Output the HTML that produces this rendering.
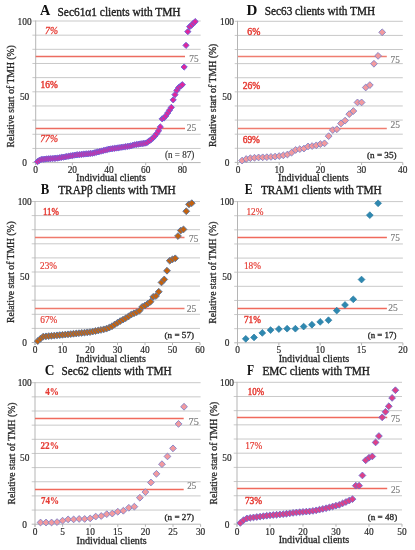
<!DOCTYPE html>
<html><head><meta charset="utf-8"><style>
html,body{margin:0;padding:0;background:#fff;}
svg{display:block;will-change:transform;}
.gl{stroke:#c9c9c9;stroke-width:1;}
.ax{stroke:#b5b5b5;stroke-width:1;}
text{font-family:"Liberation Serif",serif;}
.gr{fill:#7a7a7a;font-size:9.5px;stroke:#7a7a7a;stroke-width:0.15px;}
.tk{fill:#2a2a2a;font-size:9.4px;stroke:#2a2a2a;stroke-width:0.18px;}
.lb{fill:#2a2a2a;font-size:9.6px;stroke:#2a2a2a;stroke-width:0.3px;}
.nn{fill:#2a2a2a;font-size:8.9px;stroke:#2a2a2a;stroke-width:0.32px;}
.pc{fill:#e63c34;font-size:9.6px;stroke:#e63c34;stroke-width:0.2px;}
.let{fill:#111;font-size:14.4px;font-weight:bold;}
.tt{fill:#222;font-size:11.8px;stroke:#222;stroke-width:0.35px;}
</style></head><body>
<svg width="415" height="550" viewBox="0 0 415 550">
<rect width="415" height="550" fill="#fff"/>
<g id="pA"><line x1="32.4" y1="148.44" x2="200.67" y2="148.44" class="gl"/>
<line x1="32.4" y1="134.28" x2="200.67" y2="134.28" class="gl"/>
<line x1="32.4" y1="120.12" x2="200.67" y2="120.12" class="gl"/>
<line x1="32.4" y1="105.96" x2="200.67" y2="105.96" class="gl"/>
<line x1="32.4" y1="91.8" x2="200.67" y2="91.8" class="gl"/>
<line x1="32.4" y1="77.64" x2="200.67" y2="77.64" class="gl"/>
<line x1="32.4" y1="63.48" x2="200.67" y2="63.48" class="gl"/>
<line x1="32.4" y1="49.32" x2="200.67" y2="49.32" class="gl"/>
<line x1="32.4" y1="35.16" x2="200.67" y2="35.16" class="gl"/>
<line x1="32.4" y1="21" x2="200.67" y2="21" class="gl"/>
<line x1="35.7" y1="20.5" x2="35.7" y2="165.2" class="ax"/>
<line x1="32.4" y1="162.6" x2="200.67" y2="162.6" class="ax"/>
<line x1="35.7" y1="162.6" x2="35.7" y2="165.2" class="ax"/>
<line x1="72.36" y1="162.6" x2="72.36" y2="165.2" class="ax"/>
<line x1="109.02" y1="162.6" x2="109.02" y2="165.2" class="ax"/>
<line x1="145.68" y1="162.6" x2="145.68" y2="165.2" class="ax"/>
<line x1="182.34" y1="162.6" x2="182.34" y2="165.2" class="ax"/>
<line x1="35.7" y1="128.5" x2="185" y2="128.5" stroke="#ec6c60" stroke-width="1.35"/>
<line x1="35.7" y1="56.5" x2="185" y2="56.5" stroke="#ec6c60" stroke-width="1.35"/>
<text x="189.3" y="61.5" textLength="9.3" lengthAdjust="spacingAndGlyphs" class="gr" >75</text>
<text x="186.7" y="131" textLength="9.6" lengthAdjust="spacingAndGlyphs" class="gr" >25</text>
<text x="45.1" y="34" textLength="12.9" lengthAdjust="spacingAndGlyphs" class="pc" font-family='"Liberation Serif", serif' font-style="italic" style="stroke-width:0.3px">7%</text>
<text x="40.5" y="88" textLength="17.3" lengthAdjust="spacingAndGlyphs" class="pc" font-family='"Liberation Serif", serif' font-weight="normal" style="stroke-width:0.45px">16%</text>
<text x="40.2" y="142.2" textLength="17.8" lengthAdjust="spacingAndGlyphs" class="pc" font-family='"Liberation Serif", serif' font-style="italic" style="stroke-width:0.3px">77%</text>
<text x="165" y="158.1" textLength="29.2" lengthAdjust="spacingAndGlyphs" class="nn" font-family='"Liberation Serif", serif' style="font-size:9.8px;stroke-width:0.15px">(n = 87)</text>
<text x="24.6" y="24.6" text-anchor="middle" class="tk">100</text>
<text x="24.6" y="99.8" text-anchor="middle" class="tk">50</text>
<text x="24.6" y="166" text-anchor="middle" class="tk">0</text>
<text x="35.7" y="173" text-anchor="middle" class="tk">0</text>
<text x="72.36" y="173" text-anchor="middle" class="tk">20</text>
<text x="109.02" y="173" text-anchor="middle" class="tk">40</text>
<text x="145.68" y="173" text-anchor="middle" class="tk">60</text>
<text x="182.34" y="173" text-anchor="middle" class="tk">80</text>
<text x="76.1" y="181.2" textLength="69.7" lengthAdjust="spacingAndGlyphs" class="lb" >Individual clients</text>
<text transform="translate(13.7,147.4) rotate(-90)" textLength="102.2" lengthAdjust="spacingAndGlyphs" class="lb">Relative start of TMH (%)</text>
<text x="40.1" y="15.3" textLength="10.3" lengthAdjust="spacingAndGlyphs" class="let" >A</text>
<text x="57.5" y="15.6" textLength="123.1" lengthAdjust="spacingAndGlyphs" class="tt" >Sec61α1 clients with TMH</text>
<g fill="#e0259c" stroke="#6a62d8" stroke-width="0.95"><path d="M37.53 158.51L40.63 161.61L37.53 164.71L34.43 161.61Z"/><path d="M39.37 157.23L42.47 160.33L39.37 163.43L36.27 160.33Z"/><path d="M41.2 156.38L44.3 159.48L41.2 162.58L38.1 159.48Z"/><path d="M43.03 156.2L46.13 159.3L43.03 162.4L39.93 159.3Z"/><path d="M44.87 156.01L47.97 159.11L44.87 162.21L41.77 159.11Z"/><path d="M46.7 155.82L49.8 158.92L46.7 162.02L43.6 158.92Z"/><path d="M48.53 155.68L51.63 158.78L48.53 161.88L45.43 158.78Z"/><path d="M50.36 155.54L53.46 158.64L50.36 161.74L47.26 158.64Z"/><path d="M52.2 155.39L55.3 158.49L52.2 161.59L49.1 158.49Z"/><path d="M54.03 155.25L57.13 158.35L54.03 161.45L50.93 158.35Z"/><path d="M55.86 155.11L58.96 158.21L55.86 161.31L52.76 158.21Z"/><path d="M57.7 154.97L60.8 158.07L57.7 161.17L54.6 158.07Z"/><path d="M59.53 154.66L62.63 157.76L59.53 160.86L56.43 157.76Z"/><path d="M61.36 154.35L64.46 157.45L61.36 160.55L58.26 157.45Z"/><path d="M63.2 154.03L66.3 157.13L63.2 160.23L60.1 157.13Z"/><path d="M65.03 153.72L68.13 156.82L65.03 159.92L61.93 156.82Z"/><path d="M66.86 153.41L69.96 156.51L66.86 159.61L63.76 156.51Z"/><path d="M68.69 153.1L71.79 156.2L68.69 159.3L65.59 156.2Z"/><path d="M70.53 152.79L73.63 155.89L70.53 158.99L67.43 155.89Z"/><path d="M72.36 152.48L75.46 155.58L72.36 158.68L69.26 155.58Z"/><path d="M74.19 152.17L77.29 155.27L74.19 158.37L71.09 155.27Z"/><path d="M76.03 151.85L79.13 154.95L76.03 158.05L72.93 154.95Z"/><path d="M77.86 151.66L80.96 154.76L77.86 157.86L74.76 154.76Z"/><path d="M79.69 151.48L82.79 154.58L79.69 157.68L76.59 154.58Z"/><path d="M81.53 151.29L84.62 154.39L81.53 157.49L78.43 154.39Z"/><path d="M83.36 151.1L86.46 154.2L83.36 157.3L80.26 154.2Z"/><path d="M85.19 150.91L88.29 154.01L85.19 157.11L82.09 154.01Z"/><path d="M87.02 150.72L90.12 153.82L87.02 156.92L83.92 153.82Z"/><path d="M88.86 150.53L91.96 153.63L88.86 156.73L85.76 153.63Z"/><path d="M90.69 150.34L93.79 153.44L90.69 156.54L87.59 153.44Z"/><path d="M92.52 150.15L95.62 153.25L92.52 156.35L89.42 153.25Z"/><path d="M94.36 149.7L97.46 152.8L94.36 155.9L91.26 152.8Z"/><path d="M96.19 149.24L99.29 152.34L96.19 155.44L93.09 152.34Z"/><path d="M98.02 148.79L101.12 151.89L98.02 154.99L94.92 151.89Z"/><path d="M99.86 148.33L102.95 151.43L99.86 154.53L96.76 151.43Z"/><path d="M101.69 147.87L104.79 150.97L101.69 154.07L98.59 150.97Z"/><path d="M103.52 147.42L106.62 150.52L103.52 153.62L100.42 150.52Z"/><path d="M105.35 146.96L108.45 150.06L105.35 153.16L102.25 150.06Z"/><path d="M107.19 146.5L110.29 149.6L107.19 152.7L104.09 149.6Z"/><path d="M109.02 146.05L112.12 149.15L109.02 152.25L105.92 149.15Z"/><path d="M110.85 145.78L113.95 148.88L110.85 151.98L107.75 148.88Z"/><path d="M112.69 145.51L115.79 148.61L112.69 151.71L109.59 148.61Z"/><path d="M114.52 145.24L117.62 148.34L114.52 151.44L111.42 148.34Z"/><path d="M116.35 144.96L119.45 148.06L116.35 151.16L113.25 148.06Z"/><path d="M118.19 144.69L121.28 147.79L118.19 150.89L115.09 147.79Z"/><path d="M120.02 144.42L123.12 147.52L120.02 150.62L116.92 147.52Z"/><path d="M121.85 144.15L124.95 147.25L121.85 150.35L118.75 147.25Z"/><path d="M123.68 143.88L126.78 146.98L123.68 150.08L120.58 146.98Z"/><path d="M125.52 143.61L128.62 146.71L125.52 149.81L122.42 146.71Z"/><path d="M127.35 143.34L130.45 146.44L127.35 149.54L124.25 146.44Z"/><path d="M129.18 143.07L132.28 146.17L129.18 149.27L126.08 146.17Z"/><path d="M131.02 142.68L134.12 145.78L131.02 148.88L127.92 145.78Z"/><path d="M132.85 142.17L135.95 145.27L132.85 148.37L129.75 145.27Z"/><path d="M134.68 141.66L137.78 144.76L134.68 147.86L131.58 144.76Z"/><path d="M136.51 141.38L139.61 144.48L136.51 147.58L133.41 144.48Z"/><path d="M138.35 141.09L141.45 144.19L138.35 147.29L135.25 144.19Z"/><path d="M140.18 140.81L143.28 143.91L140.18 147.01L137.08 143.91Z"/><path d="M142.01 140.53L145.11 143.63L142.01 146.73L138.91 143.63Z"/><path d="M143.85 140.24L146.95 143.34L143.85 146.44L140.75 143.34Z"/><path d="M145.68 139.96L148.78 143.06L145.68 146.16L142.58 143.06Z"/><path d="M147.51 139.11L150.61 142.21L147.51 145.31L144.41 142.21Z"/><path d="M149.35 137.84L152.45 140.94L149.35 144.04L146.25 140.94Z"/><path d="M151.18 136.42L154.28 139.52L151.18 142.62L148.08 139.52Z"/><path d="M153.01 134.86L156.11 137.96L153.01 141.06L149.91 137.96Z"/><path d="M154.84 132.88L157.94 135.98L154.84 139.08L151.75 135.98Z"/><path d="M156.68 130.61L159.78 133.71L156.68 136.81L153.58 133.71Z"/><path d="M158.51 127.78L161.61 130.88L158.51 133.98L155.41 130.88Z"/><path d="M160.34 123.82L163.44 126.92L160.34 130.02L157.24 126.92Z"/><path d="M162.18 115.75L165.28 118.85L162.18 121.95L159.08 118.85Z"/><path d="M164.01 114.9L167.11 118L164.01 121.1L160.91 118Z"/><path d="M165.84 112.77L168.94 115.87L165.84 118.97L162.74 115.87Z"/><path d="M167.68 109.94L170.78 113.04L167.68 116.14L164.58 113.04Z"/><path d="M169.51 107.11L172.61 110.21L169.51 113.31L166.41 110.21Z"/><path d="M171.34 104.28L174.44 107.38L171.34 110.48L168.24 107.38Z"/><path d="M173.18 96.77L176.28 99.87L173.18 102.97L170.08 99.87Z"/><path d="M175.01 91.53L178.11 94.63L175.01 97.73L171.91 94.63Z"/><path d="M176.84 87.28L179.94 90.38L176.84 93.48L173.74 90.38Z"/><path d="M178.67 84.45L181.77 87.55L178.67 90.65L175.57 87.55Z"/><path d="M180.51 83.04L183.61 86.14L180.51 89.24L177.41 86.14Z"/><path d="M182.34 81.62L185.44 84.72L182.34 87.82L179.24 84.72Z"/><path d="M184.17 63.92L187.27 67.02L184.17 70.12L181.07 67.02Z"/><path d="M186.01 42.26L189.11 45.36L186.01 48.46L182.91 45.36Z"/><path d="M187.84 28.52L190.94 31.62L187.84 34.72L184.74 31.62Z"/><path d="M189.67 23.56L192.77 26.66L189.67 29.76L186.57 26.66Z"/><path d="M191.5 22.15L194.6 25.25L191.5 28.35L188.41 25.25Z"/><path d="M193.34 20.17L196.44 23.27L193.34 26.37L190.24 23.27Z"/><path d="M195.17 18.47L198.27 21.57L195.17 24.67L192.07 21.57Z"/></g></g>
<g id="pB"><line x1="31.7" y1="328.4" x2="200" y2="328.4" class="gl"/>
<line x1="31.7" y1="314.3" x2="200" y2="314.3" class="gl"/>
<line x1="31.7" y1="300.2" x2="200" y2="300.2" class="gl"/>
<line x1="31.7" y1="286.1" x2="200" y2="286.1" class="gl"/>
<line x1="31.7" y1="272" x2="200" y2="272" class="gl"/>
<line x1="31.7" y1="257.9" x2="200" y2="257.9" class="gl"/>
<line x1="31.7" y1="243.8" x2="200" y2="243.8" class="gl"/>
<line x1="31.7" y1="229.7" x2="200" y2="229.7" class="gl"/>
<line x1="31.7" y1="215.6" x2="200" y2="215.6" class="gl"/>
<line x1="31.7" y1="201.5" x2="200" y2="201.5" class="gl"/>
<line x1="35" y1="201" x2="35" y2="345.1" class="ax"/>
<line x1="31.7" y1="342.5" x2="200" y2="342.5" class="ax"/>
<line x1="35" y1="342.5" x2="35" y2="345.1" class="ax"/>
<line x1="62.5" y1="342.5" x2="62.5" y2="345.1" class="ax"/>
<line x1="90" y1="342.5" x2="90" y2="345.1" class="ax"/>
<line x1="117.5" y1="342.5" x2="117.5" y2="345.1" class="ax"/>
<line x1="145" y1="342.5" x2="145" y2="345.1" class="ax"/>
<line x1="172.5" y1="342.5" x2="172.5" y2="345.1" class="ax"/>
<line x1="200" y1="342.5" x2="200" y2="345.1" class="ax"/>
<line x1="35" y1="308.5" x2="184.5" y2="308.5" stroke="#ef7a6c" stroke-width="1.35"/>
<line x1="35" y1="237.5" x2="184.5" y2="237.5" stroke="#ef7a6c" stroke-width="1.35"/>
<text x="189" y="241.6" textLength="9.3" lengthAdjust="spacingAndGlyphs" class="gr" >75</text>
<text x="186.8" y="311.6" textLength="9.6" lengthAdjust="spacingAndGlyphs" class="gr" >25</text>
<text x="42.9" y="214.9" textLength="16" lengthAdjust="spacingAndGlyphs" class="pc" font-family='"Liberation Serif", serif' font-weight="normal" style="stroke-width:0.45px">11%</text>
<text x="40" y="269.3" textLength="17" lengthAdjust="spacingAndGlyphs" class="pc" font-family='"Liberation Sans", sans-serif' font-weight="normal">23%</text>
<text x="40.3" y="323.3" textLength="17" lengthAdjust="spacingAndGlyphs" class="pc" font-family='"Liberation Serif", serif' font-weight="normal">67%</text>
<text x="164.5" y="338.1" textLength="29.5" lengthAdjust="spacingAndGlyphs" class="nn" font-family='"Liberation Sans", sans-serif'>(n = 57)</text>
<text x="24.7" y="205.1" text-anchor="middle" class="tk">100</text>
<text x="24.7" y="280" text-anchor="middle" class="tk">50</text>
<text x="24.7" y="345.9" text-anchor="middle" class="tk">0</text>
<text x="35" y="352.9" text-anchor="middle" class="tk">0</text>
<text x="62.5" y="352.9" text-anchor="middle" class="tk">10</text>
<text x="90" y="352.9" text-anchor="middle" class="tk">20</text>
<text x="117.5" y="352.9" text-anchor="middle" class="tk">30</text>
<text x="145" y="352.9" text-anchor="middle" class="tk">40</text>
<text x="172.5" y="352.9" text-anchor="middle" class="tk">50</text>
<text x="200" y="352.9" text-anchor="middle" class="tk">60</text>
<text x="76.1" y="362.2" textLength="69.7" lengthAdjust="spacingAndGlyphs" class="lb" >Individual clients</text>
<text transform="translate(13.7,323) rotate(-90)" textLength="101.7" lengthAdjust="spacingAndGlyphs" class="lb">Relative start of TMH (%)</text>
<text x="40.7" y="193.6" textLength="8.5" lengthAdjust="spacingAndGlyphs" class="let" >B</text>
<text x="58.2" y="193.9" textLength="117.6" lengthAdjust="spacingAndGlyphs" class="tt" >TRAPβ clients with TMH</text>
<g fill="#c4620e" stroke="#5a76a0" stroke-width="0.95"><path d="M37.75 337.69L41.15 341.09L37.75 344.49L34.35 341.09Z"/><path d="M40.5 335.29L43.9 338.69L40.5 342.09L37.1 338.69Z"/><path d="M43.25 333.18L46.65 336.58L43.25 339.98L39.85 336.58Z"/><path d="M46 332.93L49.4 336.33L46 339.73L42.6 336.33Z"/><path d="M48.75 332.68L52.15 336.08L48.75 339.48L45.35 336.08Z"/><path d="M51.5 332.43L54.9 335.83L51.5 339.23L48.1 335.83Z"/><path d="M54.25 332.18L57.65 335.58L54.25 338.98L50.85 335.58Z"/><path d="M57 331.92L60.4 335.32L57 338.72L53.6 335.32Z"/><path d="M59.75 331.67L63.15 335.07L59.75 338.47L56.35 335.07Z"/><path d="M62.5 331.42L65.9 334.82L62.5 338.22L59.1 334.82Z"/><path d="M65.25 331.17L68.65 334.57L65.25 337.97L61.85 334.57Z"/><path d="M68 330.92L71.4 334.32L68 337.72L64.6 334.32Z"/><path d="M70.75 330.64L74.15 334.04L70.75 337.44L67.35 334.04Z"/><path d="M73.5 330.36L76.9 333.76L73.5 337.16L70.1 333.76Z"/><path d="M76.25 330.08L79.65 333.48L76.25 336.88L72.85 333.48Z"/><path d="M79 329.79L82.4 333.19L79 336.59L75.6 333.19Z"/><path d="M81.75 329.51L85.15 332.91L81.75 336.31L78.35 332.91Z"/><path d="M84.5 329.23L87.9 332.63L84.5 336.03L81.1 332.63Z"/><path d="M87.25 328.95L90.65 332.35L87.25 335.75L83.85 332.35Z"/><path d="M90 328.67L93.4 332.07L90 335.47L86.6 332.07Z"/><path d="M92.75 328.14L96.15 331.54L92.75 334.94L89.35 331.54Z"/><path d="M95.5 327.61L98.9 331.01L95.5 334.41L92.1 331.01Z"/><path d="M98.25 327.08L101.65 330.48L98.25 333.88L94.85 330.48Z"/><path d="M101 326.55L104.4 329.95L101 333.35L97.6 329.95Z"/><path d="M103.75 325.92L107.15 329.32L103.75 332.72L100.35 329.32Z"/><path d="M106.5 325.28L109.9 328.68L106.5 332.08L103.1 328.68Z"/><path d="M109.25 324.22L112.65 327.62L109.25 331.02L105.85 327.62Z"/><path d="M112 322.86L115.4 326.26L112 329.66L108.6 326.26Z"/><path d="M114.75 321.04L118.15 324.44L114.75 327.84L111.35 324.44Z"/><path d="M117.5 319.34L120.9 322.74L117.5 326.14L114.1 322.74Z"/><path d="M120.25 317.69L123.65 321.09L120.25 324.49L116.85 321.09Z"/><path d="M123 316.26L126.4 319.66L123 323.06L119.6 319.66Z"/><path d="M125.75 314.79L129.15 318.19L125.75 321.59L122.35 318.19Z"/><path d="M128.5 313.08L131.9 316.48L128.5 319.88L125.1 316.48Z"/><path d="M131.25 311.19L134.65 314.59L131.25 317.99L127.85 314.59Z"/><path d="M134 309.91L137.4 313.31L134 316.71L130.6 313.31Z"/><path d="M136.75 308.79L140.15 312.19L136.75 315.58L133.35 312.19Z"/><path d="M139.5 307.23L142.9 310.63L139.5 314.03L136.1 310.63Z"/><path d="M142.25 303.43L145.65 306.83L142.25 310.23L138.85 306.83Z"/><path d="M145 302.16L148.4 305.56L145 308.96L141.6 305.56Z"/><path d="M147.75 300.33L151.15 303.73L147.75 307.12L144.35 303.73Z"/><path d="M150.5 298.35L153.9 301.75L150.5 305.15L147.1 301.75Z"/><path d="M153.25 293.42L156.65 296.82L153.25 300.22L149.85 296.82Z"/><path d="M156 292.57L159.4 295.97L156 299.37L152.6 295.97Z"/><path d="M158.75 288.34L162.15 291.74L158.75 295.14L155.35 291.74Z"/><path d="M161.5 279.03L164.9 282.43L161.5 285.83L158.1 282.43Z"/><path d="M164.25 276.07L167.65 279.47L164.25 282.87L160.85 279.47Z"/><path d="M167 267.33L170.4 270.73L167 274.13L163.6 270.73Z"/><path d="M169.75 257.32L173.15 260.72L169.75 264.12L166.35 260.72Z"/><path d="M172.5 255.91L175.9 259.31L172.5 262.71L169.1 259.31Z"/><path d="M175.25 254.92L178.65 258.32L175.25 261.72L171.85 258.32Z"/><path d="M178 232.65L181.4 236.05L178 239.45L174.6 236.05Z"/><path d="M180.75 227.15L184.15 230.55L180.75 233.95L177.35 230.55Z"/><path d="M183.5 226.02L186.9 229.42L183.5 232.82L180.1 229.42Z"/><path d="M186.25 207.83L189.65 211.23L186.25 214.63L182.85 211.23Z"/><path d="M189 200.92L192.4 204.32L189 207.72L185.6 204.32Z"/><path d="M191.75 199.79L195.15 203.19L191.75 206.59L188.35 203.19Z"/></g></g>
<g id="pC"><line x1="31.7" y1="510.05" x2="200.6" y2="510.05" class="gl"/>
<line x1="31.7" y1="495.9" x2="200.6" y2="495.9" class="gl"/>
<line x1="31.7" y1="481.75" x2="200.6" y2="481.75" class="gl"/>
<line x1="31.7" y1="467.6" x2="200.6" y2="467.6" class="gl"/>
<line x1="31.7" y1="453.45" x2="200.6" y2="453.45" class="gl"/>
<line x1="31.7" y1="439.3" x2="200.6" y2="439.3" class="gl"/>
<line x1="31.7" y1="425.15" x2="200.6" y2="425.15" class="gl"/>
<line x1="31.7" y1="411" x2="200.6" y2="411" class="gl"/>
<line x1="31.7" y1="396.85" x2="200.6" y2="396.85" class="gl"/>
<line x1="31.7" y1="382.7" x2="200.6" y2="382.7" class="gl"/>
<line x1="35" y1="382.2" x2="35" y2="526.8" class="ax"/>
<line x1="31.7" y1="524.2" x2="200.6" y2="524.2" class="ax"/>
<line x1="35" y1="524.2" x2="35" y2="526.8" class="ax"/>
<line x1="62.6" y1="524.2" x2="62.6" y2="526.8" class="ax"/>
<line x1="90.2" y1="524.2" x2="90.2" y2="526.8" class="ax"/>
<line x1="117.8" y1="524.2" x2="117.8" y2="526.8" class="ax"/>
<line x1="145.4" y1="524.2" x2="145.4" y2="526.8" class="ax"/>
<line x1="173" y1="524.2" x2="173" y2="526.8" class="ax"/>
<line x1="200.6" y1="524.2" x2="200.6" y2="526.8" class="ax"/>
<line x1="35" y1="489.5" x2="183.7" y2="489.5" stroke="#f06a5c" stroke-width="1.35"/>
<line x1="35" y1="418.5" x2="183.7" y2="418.5" stroke="#f06a5c" stroke-width="1.35"/>
<text x="188.5" y="424.6" textLength="10.3" lengthAdjust="spacingAndGlyphs" class="gr" >75</text>
<text x="187.2" y="489.4" textLength="9" lengthAdjust="spacingAndGlyphs" class="gr" >25</text>
<text x="45.3" y="394.9" textLength="13.6" lengthAdjust="spacingAndGlyphs" class="pc" font-family='"Liberation Sans", sans-serif' font-weight="bold">4%</text>
<text x="40.5" y="449.3" textLength="18.4" lengthAdjust="spacingAndGlyphs" class="pc" font-family='"Liberation Sans", sans-serif' font-weight="bold">22%</text>
<text x="41" y="503.5" textLength="17.9" lengthAdjust="spacingAndGlyphs" class="pc" font-family='"Liberation Sans", sans-serif' font-weight="bold">74%</text>
<text x="164.5" y="520.1" textLength="29.5" lengthAdjust="spacingAndGlyphs" class="nn" font-family='"Liberation Sans", sans-serif'>(n = 27)</text>
<text x="24.7" y="386.3" text-anchor="middle" class="tk">100</text>
<text x="24.7" y="461.45" text-anchor="middle" class="tk">50</text>
<text x="24.7" y="527.6" text-anchor="middle" class="tk">0</text>
<text x="35" y="534.6" text-anchor="middle" class="tk">0</text>
<text x="62.6" y="534.6" text-anchor="middle" class="tk">5</text>
<text x="90.2" y="534.6" text-anchor="middle" class="tk">10</text>
<text x="117.8" y="534.6" text-anchor="middle" class="tk">15</text>
<text x="145.4" y="534.6" text-anchor="middle" class="tk">20</text>
<text x="173" y="534.6" text-anchor="middle" class="tk">25</text>
<text x="200.6" y="534.6" text-anchor="middle" class="tk">30</text>
<text x="76.6" y="544.3" textLength="70" lengthAdjust="spacingAndGlyphs" class="lb" >Individual clients</text>
<text transform="translate(14.8,504.5) rotate(-90)" textLength="101.9" lengthAdjust="spacingAndGlyphs" class="lb">Relative start of TMH (%)</text>
<text x="44.7" y="375" textLength="9.7" lengthAdjust="spacingAndGlyphs" class="let" >C</text>
<text x="61.5" y="375" textLength="110.1" lengthAdjust="spacingAndGlyphs" class="tt" >Sec62 clients with TMH</text>
<g fill="#f39a9e" stroke="#8083c8" stroke-width="0.9"><path d="M40.52 519.1L43.92 522.5L40.52 525.9L37.12 522.5Z"/><path d="M46.04 519.1L49.44 522.5L46.04 525.9L42.64 522.5Z"/><path d="M51.56 519.1L54.96 522.5L51.56 525.9L48.16 522.5Z"/><path d="M57.08 518.68L60.48 522.08L57.08 525.48L53.68 522.08Z"/><path d="M62.6 517.26L66 520.66L62.6 524.06L59.2 520.66Z"/><path d="M68.12 515.99L71.52 519.39L68.12 522.79L64.72 519.39Z"/><path d="M73.64 515.99L77.04 519.39L73.64 522.79L70.24 519.39Z"/><path d="M79.16 515.56L82.56 518.96L79.16 522.36L75.76 518.96Z"/><path d="M84.68 515.56L88.08 518.96L84.68 522.36L81.28 518.96Z"/><path d="M90.2 515L93.6 518.4L90.2 521.8L86.8 518.4Z"/><path d="M95.72 513.16L99.12 516.56L95.72 519.96L92.32 516.56Z"/><path d="M101.24 512.59L104.64 515.99L101.24 519.39L97.84 515.99Z"/><path d="M106.76 510.75L110.16 514.15L106.76 517.55L103.36 514.15Z"/><path d="M112.28 510.19L115.68 513.59L112.28 516.99L108.88 513.59Z"/><path d="M117.8 508.35L121.2 511.75L117.8 515.15L114.4 511.75Z"/><path d="M123.32 507.36L126.72 510.76L123.32 514.16L119.92 510.76Z"/><path d="M128.84 504.39L132.24 507.79L128.84 511.19L125.44 507.79Z"/><path d="M134.36 503.25L137.76 506.65L134.36 510.05L130.96 506.65Z"/><path d="M139.88 494.34L143.28 497.74L139.88 501.14L136.48 497.74Z"/><path d="M145.4 488.68L148.8 492.08L145.4 495.48L142 492.08Z"/><path d="M150.92 479.06L154.32 482.46L150.92 485.86L147.52 482.46Z"/><path d="M156.44 470.43L159.84 473.83L156.44 477.23L153.04 473.83Z"/><path d="M161.96 460.8L165.36 464.2L161.96 467.6L158.56 464.2Z"/><path d="M167.48 453.02L170.88 456.42L167.48 459.82L164.08 456.42Z"/><path d="M173 444.96L176.4 448.36L173 451.76L169.6 448.36Z"/><path d="M178.52 420.48L181.92 423.88L178.52 427.28L175.12 423.88Z"/><path d="M184.04 403.36L187.44 406.75L184.04 410.15L180.64 406.75Z"/></g></g>
<g id="pD"><line x1="234.7" y1="148.29" x2="402.8" y2="148.29" class="gl"/>
<line x1="234.7" y1="134.18" x2="402.8" y2="134.18" class="gl"/>
<line x1="234.7" y1="120.07" x2="402.8" y2="120.07" class="gl"/>
<line x1="234.7" y1="105.96" x2="402.8" y2="105.96" class="gl"/>
<line x1="234.7" y1="91.85" x2="402.8" y2="91.85" class="gl"/>
<line x1="234.7" y1="77.74" x2="402.8" y2="77.74" class="gl"/>
<line x1="234.7" y1="63.63" x2="402.8" y2="63.63" class="gl"/>
<line x1="234.7" y1="49.52" x2="402.8" y2="49.52" class="gl"/>
<line x1="234.7" y1="35.41" x2="402.8" y2="35.41" class="gl"/>
<line x1="234.7" y1="21.3" x2="402.8" y2="21.3" class="gl"/>
<line x1="237.5" y1="20.8" x2="237.5" y2="165" class="ax"/>
<line x1="234.7" y1="162.4" x2="402.8" y2="162.4" class="ax"/>
<line x1="238" y1="162.4" x2="238" y2="165" class="ax"/>
<line x1="279.2" y1="162.4" x2="279.2" y2="165" class="ax"/>
<line x1="320.4" y1="162.4" x2="320.4" y2="165" class="ax"/>
<line x1="361.6" y1="162.4" x2="361.6" y2="165" class="ax"/>
<line x1="402.8" y1="162.4" x2="402.8" y2="165" class="ax"/>
<line x1="238" y1="128.5" x2="386.8" y2="128.5" stroke="#ef7d70" stroke-width="1.35"/>
<line x1="238" y1="56.5" x2="386.8" y2="56.5" stroke="#ef7d70" stroke-width="1.35"/>
<text x="390.5" y="62.9" textLength="9.3" lengthAdjust="spacingAndGlyphs" class="gr" >75</text>
<text x="390.5" y="127.5" textLength="9.5" lengthAdjust="spacingAndGlyphs" class="gr" >25</text>
<text x="247.3" y="34.7" textLength="13.1" lengthAdjust="spacingAndGlyphs" class="pc" font-family='"Liberation Serif", serif' font-weight="normal" style="stroke-width:0.45px">6%</text>
<text x="242.7" y="88.8" textLength="17.5" lengthAdjust="spacingAndGlyphs" class="pc" font-family='"Liberation Serif", serif' font-weight="normal" style="stroke-width:0.45px">26%</text>
<text x="242.7" y="142.8" textLength="17.3" lengthAdjust="spacingAndGlyphs" class="pc" font-family='"Liberation Serif", serif' font-weight="normal" style="stroke-width:0.45px">69%</text>
<text x="367" y="158.1" textLength="29.5" lengthAdjust="spacingAndGlyphs" class="nn" font-family='"Liberation Sans", sans-serif'>(n = 35)</text>
<text x="227" y="24.9" text-anchor="middle" class="tk">100</text>
<text x="227" y="99.85" text-anchor="middle" class="tk">50</text>
<text x="227" y="165.8" text-anchor="middle" class="tk">0</text>
<text x="238" y="172.8" text-anchor="middle" class="tk">0</text>
<text x="279.2" y="172.8" text-anchor="middle" class="tk">10</text>
<text x="320.4" y="172.8" text-anchor="middle" class="tk">20</text>
<text x="361.6" y="172.8" text-anchor="middle" class="tk">30</text>
<text x="402.8" y="172.8" text-anchor="middle" class="tk">40</text>
<text x="278.1" y="181.2" textLength="70.6" lengthAdjust="spacingAndGlyphs" class="lb" >Individual clients</text>
<text transform="translate(216,147.1) rotate(-90)" textLength="103.4" lengthAdjust="spacingAndGlyphs" class="lb">Relative start of TMH (%)</text>
<text x="246.4" y="15" textLength="10.9" lengthAdjust="spacingAndGlyphs" class="let" >D</text>
<text x="264.7" y="15.4" textLength="110.5" lengthAdjust="spacingAndGlyphs" class="tt" >Sec63 clients with TMH</text>
<g fill="#f39a9e" stroke="#8083c8" stroke-width="0.9"><path d="M242.12 157.17L245.52 160.57L242.12 163.97L238.72 160.57Z"/><path d="M246.24 155.61L249.64 159.01L246.24 162.41L242.84 159.01Z"/><path d="M250.36 154.77L253.76 158.17L250.36 161.57L246.96 158.17Z"/><path d="M254.48 154.34L257.88 157.74L254.48 161.14L251.08 157.74Z"/><path d="M258.6 154.06L262 157.46L258.6 160.86L255.2 157.46Z"/><path d="M262.72 153.92L266.12 157.32L262.72 160.72L259.32 157.32Z"/><path d="M266.84 153.78L270.24 157.18L266.84 160.58L263.44 157.18Z"/><path d="M270.96 153.5L274.36 156.9L270.96 160.3L267.56 156.9Z"/><path d="M275.08 153.21L278.48 156.61L275.08 160.01L271.68 156.61Z"/><path d="M279.2 152.65L282.6 156.05L279.2 159.45L275.8 156.05Z"/><path d="M283.32 151.94L286.72 155.34L283.32 158.75L279.92 155.34Z"/><path d="M287.44 151.1L290.84 154.5L287.44 157.9L284.04 154.5Z"/><path d="M291.56 149.26L294.96 152.66L291.56 156.06L288.16 152.66Z"/><path d="M295.68 146.58L299.08 149.98L295.68 153.38L292.28 149.98Z"/><path d="M299.8 145.74L303.2 149.14L299.8 152.54L296.4 149.14Z"/><path d="M303.92 145.17L307.32 148.57L303.92 151.97L300.52 148.57Z"/><path d="M308.04 143.06L311.44 146.46L308.04 149.86L304.64 146.46Z"/><path d="M312.16 142.63L315.56 146.03L312.16 149.43L308.76 146.03Z"/><path d="M316.28 141.93L319.68 145.33L316.28 148.73L312.88 145.33Z"/><path d="M320.4 140.66L323.8 144.06L320.4 147.46L317 144.06Z"/><path d="M324.52 139.95L327.92 143.35L324.52 146.75L321.12 143.35Z"/><path d="M328.64 132.76L332.04 136.16L328.64 139.56L325.24 136.16Z"/><path d="M332.76 126.69L336.16 130.09L332.76 133.49L329.36 130.09Z"/><path d="M336.88 125.84L340.28 129.24L336.88 132.64L333.48 129.24Z"/><path d="M341 120.06L344.4 123.46L341 126.86L337.6 123.46Z"/><path d="M345.12 117.23L348.52 120.63L345.12 124.03L341.72 120.63Z"/><path d="M349.24 110.74L352.64 114.14L349.24 117.54L345.84 114.14Z"/><path d="M353.36 107.64L356.76 111.04L353.36 114.44L349.96 111.04Z"/><path d="M357.48 99.03L360.88 102.43L357.48 105.83L354.08 102.43Z"/><path d="M361.6 99.03L365 102.43L361.6 105.83L358.2 102.43Z"/><path d="M365.72 84.08L369.12 87.48L365.72 90.88L362.32 87.48Z"/><path d="M369.84 81.68L373.24 85.08L369.84 88.48L366.44 85.08Z"/><path d="M373.96 60.37L377.36 63.77L373.96 67.17L370.56 63.77Z"/><path d="M378.08 52.47L381.48 55.87L378.08 59.27L374.68 55.87Z"/><path d="M382.2 28.91L385.6 32.31L382.2 35.71L378.8 32.31Z"/></g></g>
<g id="pE"><line x1="234.2" y1="328.68" x2="402.9" y2="328.68" class="gl"/>
<line x1="234.2" y1="314.56" x2="402.9" y2="314.56" class="gl"/>
<line x1="234.2" y1="300.44" x2="402.9" y2="300.44" class="gl"/>
<line x1="234.2" y1="286.32" x2="402.9" y2="286.32" class="gl"/>
<line x1="234.2" y1="272.2" x2="402.9" y2="272.2" class="gl"/>
<line x1="234.2" y1="258.08" x2="402.9" y2="258.08" class="gl"/>
<line x1="234.2" y1="243.96" x2="402.9" y2="243.96" class="gl"/>
<line x1="234.2" y1="229.84" x2="402.9" y2="229.84" class="gl"/>
<line x1="234.2" y1="215.72" x2="402.9" y2="215.72" class="gl"/>
<line x1="234.2" y1="201.6" x2="402.9" y2="201.6" class="gl"/>
<line x1="237.5" y1="201.1" x2="237.5" y2="345.4" class="ax"/>
<line x1="234.2" y1="342.8" x2="402.9" y2="342.8" class="ax"/>
<line x1="237.5" y1="342.8" x2="237.5" y2="345.4" class="ax"/>
<line x1="278.85" y1="342.8" x2="278.85" y2="345.4" class="ax"/>
<line x1="320.2" y1="342.8" x2="320.2" y2="345.4" class="ax"/>
<line x1="361.55" y1="342.8" x2="361.55" y2="345.4" class="ax"/>
<line x1="402.9" y1="342.8" x2="402.9" y2="345.4" class="ax"/>
<line x1="237.5" y1="308.5" x2="386.9" y2="308.5" stroke="#f06a5c" stroke-width="1.35"/>
<line x1="237.5" y1="237.5" x2="386.9" y2="237.5" stroke="#f06a5c" stroke-width="1.35"/>
<text x="390.5" y="241.4" textLength="9.3" lengthAdjust="spacingAndGlyphs" class="gr" >75</text>
<text x="388.2" y="311.1" textLength="9.5" lengthAdjust="spacingAndGlyphs" class="gr" >25</text>
<text x="246.4" y="215" textLength="17" lengthAdjust="spacingAndGlyphs" class="pc" font-family='"Liberation Serif", serif' font-weight="normal">12%</text>
<text x="243.9" y="269" textLength="17" lengthAdjust="spacingAndGlyphs" class="pc" font-family='"Liberation Serif", serif' font-weight="normal">18%</text>
<text x="243.9" y="322.8" textLength="17" lengthAdjust="spacingAndGlyphs" class="pc" font-family='"Liberation Serif", serif' font-weight="normal" style="stroke-width:0.45px">71%</text>
<text x="367.7" y="338.1" textLength="28.8" lengthAdjust="spacingAndGlyphs" class="nn" font-family='"Liberation Sans", sans-serif'>(n = 17)</text>
<text x="227" y="205.2" text-anchor="middle" class="tk">100</text>
<text x="227" y="280.2" text-anchor="middle" class="tk">50</text>
<text x="227" y="346.2" text-anchor="middle" class="tk">0</text>
<text x="237.5" y="353.2" text-anchor="middle" class="tk">0</text>
<text x="278.85" y="353.2" text-anchor="middle" class="tk">5</text>
<text x="320.2" y="353.2" text-anchor="middle" class="tk">10</text>
<text x="361.55" y="353.2" text-anchor="middle" class="tk">15</text>
<text x="402.9" y="353.2" text-anchor="middle" class="tk">20</text>
<text x="278.7" y="362.2" textLength="70.5" lengthAdjust="spacingAndGlyphs" class="lb" >Individual clients</text>
<text transform="translate(215.9,323.7) rotate(-90)" textLength="102.1" lengthAdjust="spacingAndGlyphs" class="lb">Relative start of TMH (%)</text>
<text x="244.7" y="193.8" textLength="7.9" lengthAdjust="spacingAndGlyphs" class="let" >E</text>
<text x="260.9" y="193.9" textLength="120.7" lengthAdjust="spacingAndGlyphs" class="tt" >TRAM1 clients with TMH</text>
<g fill="#2e88b0" stroke="#2a7aa0" stroke-width="0.7"><path d="M245.77 335.45L249.17 338.85L245.77 342.25L242.37 338.85Z"/><path d="M254.04 334.03L257.44 337.43L254.04 340.83L250.64 337.43Z"/><path d="M262.31 329.52L265.71 332.92L262.31 336.32L258.91 332.92Z"/><path d="M270.58 326.69L273.98 330.09L270.58 333.49L267.18 330.09Z"/><path d="M278.85 325.7L282.25 329.1L278.85 332.5L275.45 329.1Z"/><path d="M287.12 325.28L290.52 328.68L287.12 332.08L283.72 328.68Z"/><path d="M295.39 325.28L298.79 328.68L295.39 332.08L291.99 328.68Z"/><path d="M303.66 323.16L307.06 326.56L303.66 329.96L300.26 326.56Z"/><path d="M311.93 321.33L315.33 324.73L311.93 328.13L308.53 324.73Z"/><path d="M320.2 318.5L323.6 321.9L320.2 325.3L316.8 321.9Z"/><path d="M328.47 316.81L331.87 320.21L328.47 323.61L325.07 320.21Z"/><path d="M336.74 307.21L340.14 310.61L336.74 314.01L333.34 310.61Z"/><path d="M345.01 301.56L348.41 304.96L345.01 308.36L341.61 304.96Z"/><path d="M353.28 295.91L356.68 299.31L353.28 302.71L349.88 299.31Z"/><path d="M361.55 276.14L364.95 279.54L361.55 282.94L358.15 279.54Z"/><path d="M369.82 211.76L373.22 215.16L369.82 218.56L366.42 215.16Z"/><path d="M378.09 199.89L381.49 203.29L378.09 206.69L374.69 203.29Z"/></g></g>
<g id="pF"><line x1="233.7" y1="509.92" x2="402" y2="509.92" class="gl"/>
<line x1="233.7" y1="495.74" x2="402" y2="495.74" class="gl"/>
<line x1="233.7" y1="481.56" x2="402" y2="481.56" class="gl"/>
<line x1="233.7" y1="467.38" x2="402" y2="467.38" class="gl"/>
<line x1="233.7" y1="453.2" x2="402" y2="453.2" class="gl"/>
<line x1="233.7" y1="439.02" x2="402" y2="439.02" class="gl"/>
<line x1="233.7" y1="424.84" x2="402" y2="424.84" class="gl"/>
<line x1="233.7" y1="410.66" x2="402" y2="410.66" class="gl"/>
<line x1="233.7" y1="396.48" x2="402" y2="396.48" class="gl"/>
<line x1="233.7" y1="382.3" x2="402" y2="382.3" class="gl"/>
<line x1="237" y1="381.8" x2="237" y2="526.7" class="ax"/>
<line x1="233.7" y1="524.1" x2="402" y2="524.1" class="ax"/>
<line x1="237" y1="524.1" x2="237" y2="526.7" class="ax"/>
<line x1="270" y1="524.1" x2="270" y2="526.7" class="ax"/>
<line x1="303" y1="524.1" x2="303" y2="526.7" class="ax"/>
<line x1="336" y1="524.1" x2="336" y2="526.7" class="ax"/>
<line x1="369" y1="524.1" x2="369" y2="526.7" class="ax"/>
<line x1="402" y1="524.1" x2="402" y2="526.7" class="ax"/>
<line x1="237" y1="488.5" x2="387.2" y2="488.5" stroke="#f06a5c" stroke-width="1.35"/>
<line x1="237" y1="417.5" x2="387.2" y2="417.5" stroke="#f06a5c" stroke-width="1.35"/>
<text x="390.9" y="422.2" textLength="9.3" lengthAdjust="spacingAndGlyphs" class="gr" >75</text>
<text x="390.9" y="492.6" textLength="9.3" lengthAdjust="spacingAndGlyphs" class="gr" >25</text>
<text x="247.8" y="394.9" textLength="16.3" lengthAdjust="spacingAndGlyphs" class="pc" font-family='"Liberation Serif", serif' font-weight="normal" style="stroke-width:0.45px">10%</text>
<text x="245.2" y="449.3" textLength="17" lengthAdjust="spacingAndGlyphs" class="pc" font-family='"Liberation Serif", serif' font-weight="normal">17%</text>
<text x="244.9" y="503.5" textLength="17.3" lengthAdjust="spacingAndGlyphs" class="pc" font-family='"Liberation Serif", serif' font-weight="normal" style="stroke-width:0.45px">73%</text>
<text x="367.7" y="520.1" textLength="29.5" lengthAdjust="spacingAndGlyphs" class="nn" font-family='"Liberation Sans", sans-serif'>(n = 48)</text>
<text x="227" y="385.9" text-anchor="middle" class="tk">100</text>
<text x="227" y="461.2" text-anchor="middle" class="tk">50</text>
<text x="227" y="527.5" text-anchor="middle" class="tk">0</text>
<text x="237" y="534.5" text-anchor="middle" class="tk">0</text>
<text x="270" y="534.5" text-anchor="middle" class="tk">10</text>
<text x="303" y="534.5" text-anchor="middle" class="tk">20</text>
<text x="336" y="534.5" text-anchor="middle" class="tk">30</text>
<text x="369" y="534.5" text-anchor="middle" class="tk">40</text>
<text x="402" y="534.5" text-anchor="middle" class="tk">50</text>
<text x="278.7" y="543.1" textLength="70.5" lengthAdjust="spacingAndGlyphs" class="lb" >Individual clients</text>
<text transform="translate(216.6,504.5) rotate(-90)" textLength="102.7" lengthAdjust="spacingAndGlyphs" class="lb">Relative start of TMH (%)</text>
<text x="247" y="374.7" textLength="7.1" lengthAdjust="spacingAndGlyphs" class="let" >F</text>
<text x="262.4" y="375" textLength="107.6" lengthAdjust="spacingAndGlyphs" class="tt" >EMC clients with TMH</text>
<g fill="#de4088" stroke="#6a6ed0" stroke-width="0.85"><path d="M240.3 519.57L243.7 522.97L240.3 526.37L236.9 522.97Z"/><path d="M243.6 516.73L247 520.13L243.6 523.53L240.2 520.13Z"/><path d="M246.9 515.03L250.3 518.43L246.9 521.83L243.5 518.43Z"/><path d="M250.2 514.46L253.6 517.86L250.2 521.26L246.8 517.86Z"/><path d="M253.5 514.04L256.9 517.44L253.5 520.84L250.1 517.44Z"/><path d="M256.8 513.61L260.2 517.01L256.8 520.41L253.4 517.01Z"/><path d="M260.1 513.18L263.5 516.58L260.1 519.98L256.7 516.58Z"/><path d="M263.4 512.76L266.8 516.16L263.4 519.56L260 516.16Z"/><path d="M266.7 512.33L270.1 515.73L266.7 519.13L263.3 515.73Z"/><path d="M270 511.91L273.4 515.31L270 518.71L266.6 515.31Z"/><path d="M273.3 511.62L276.7 515.02L273.3 518.42L269.9 515.02Z"/><path d="M276.6 511.34L280 514.74L276.6 518.14L273.2 514.74Z"/><path d="M279.9 511.06L283.3 514.46L279.9 517.86L276.5 514.46Z"/><path d="M283.2 510.77L286.6 514.17L283.2 517.57L279.8 514.17Z"/><path d="M286.5 510.35L289.9 513.75L286.5 517.15L283.1 513.75Z"/><path d="M289.8 509.92L293.2 513.32L289.8 516.72L286.4 513.32Z"/><path d="M293.1 509.5L296.5 512.9L293.1 516.3L289.7 512.9Z"/><path d="M296.4 509.07L299.8 512.47L296.4 515.87L293 512.47Z"/><path d="M299.7 508.79L303.1 512.19L299.7 515.59L296.3 512.19Z"/><path d="M303 508.51L306.4 511.91L303 515.31L299.6 511.91Z"/><path d="M306.3 508.22L309.7 511.62L306.3 515.02L302.9 511.62Z"/><path d="M309.6 507.94L313 511.34L309.6 514.74L306.2 511.34Z"/><path d="M312.9 507.51L316.3 510.91L312.9 514.31L309.5 510.91Z"/><path d="M316.2 506.95L319.6 510.35L316.2 513.75L312.8 510.35Z"/><path d="M319.5 506.24L322.9 509.64L319.5 513.04L316.1 509.64Z"/><path d="M322.8 505.53L326.2 508.93L322.8 512.33L319.4 508.93Z"/><path d="M326.1 504.82L329.5 508.22L326.1 511.62L322.7 508.22Z"/><path d="M329.4 503.97L332.8 507.37L329.4 510.77L326 507.37Z"/><path d="M332.7 503.12L336.1 506.52L332.7 509.92L329.3 506.52Z"/><path d="M336 502.27L339.4 505.67L336 509.07L332.6 505.67Z"/><path d="M339.3 501.42L342.7 504.82L339.3 508.22L335.9 504.82Z"/><path d="M342.6 500L346 503.4L342.6 506.8L339.2 503.4Z"/><path d="M345.9 498.58L349.3 501.98L345.9 505.38L342.5 501.98Z"/><path d="M349.2 497.16L352.6 500.56L349.2 503.96L345.8 500.56Z"/><path d="M352.5 495.74L355.9 499.14L352.5 502.54L349.1 499.14Z"/><path d="M355.8 482.27L359.2 485.67L355.8 489.07L352.4 485.67Z"/><path d="M359.1 482.27L362.5 485.67L359.1 489.07L355.7 485.67Z"/><path d="M362.4 472.06L365.8 475.46L362.4 478.86L359 475.46Z"/><path d="M365.7 456.89L369.1 460.29L365.7 463.69L362.3 460.29Z"/><path d="M369 454.34L372.4 457.74L369 461.14L365.6 457.74Z"/><path d="M372.3 453.06L375.7 456.46L372.3 459.86L368.9 456.46Z"/><path d="M375.6 439.02L379 442.42L375.6 445.82L372.2 442.42Z"/><path d="M378.9 432.64L382.3 436.04L378.9 439.44L375.5 436.04Z"/><path d="M382.2 413.92L385.6 417.32L382.2 420.72L378.8 417.32Z"/><path d="M385.5 408.39L388.9 411.79L385.5 415.19L382.1 411.79Z"/><path d="M388.8 402.86L392.2 406.26L388.8 409.66L385.4 406.26Z"/><path d="M392.1 394.5L395.5 397.9L392.1 401.3L388.7 397.9Z"/><path d="M395.4 386.84L398.8 390.24L395.4 393.64L392 390.24Z"/></g></g>
</svg>
</body></html>
